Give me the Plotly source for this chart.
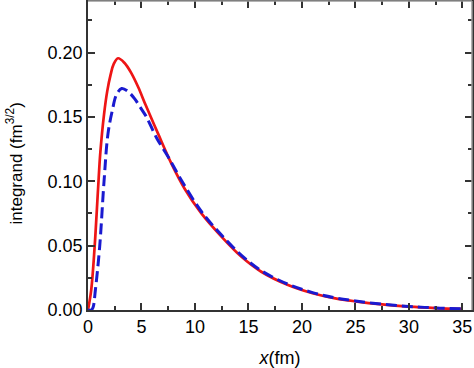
import plotly.graph_objects as go

# Red solid curve
red_x = [0, 0.3, 0.62, 0.94, 1.15, 1.5, 1.8, 2.12, 2.4, 2.81, 3.4, 4.05, 4.7, 5.4, 6.55,
         7.8, 9.05, 10.6, 12.5, 14.35, 16.2, 18.7, 21, 23, 25, 27.5, 30, 32.5, 35]
red_y = [0, 0.0155, 0.049, 0.094, 0.122, 0.152, 0.170, 0.183, 0.191, 0.1955, 0.192, 0.184,
         0.173, 0.159, 0.137, 0.1137, 0.094, 0.075, 0.0568, 0.0413, 0.0297, 0.0194, 0.013,
         0.0092, 0.0067, 0.0043, 0.0026, 0.0015, 0.0008]

# Blue dashed curve
blue_x = [0, 0.3, 0.47, 0.69, 1.09, 1.5, 1.87, 2.3, 2.65, 3.15, 3.7, 4.37, 4.84, 5.46, 6.39,
          7.49, 8.73, 10.6, 12.5, 14.35, 16.2, 18.7, 21, 23, 25, 27.5, 30, 32.5, 35]
blue_y = [0, 0, 0.002, 0.0155, 0.049, 0.100, 0.137, 0.156, 0.167, 0.172, 0.170, 0.164,
          0.158, 0.150, 0.134, 0.119, 0.1008, 0.0765, 0.058, 0.0425, 0.0305, 0.0200, 0.0135,
          0.0096, 0.007, 0.0045, 0.0028, 0.0016, 0.0009]

x_ticks = [0, 5, 10, 15, 20, 25, 30, 35]
y_ticks = [0.00, 0.05, 0.10, 0.15, 0.20]

fig = go.Figure()
fig.add_trace(go.Scatter(x=red_x, y=red_y, mode="lines",
                         line=dict(color="#ee1515", width=2.7, shape="spline", smoothing=1.0)))
fig.add_trace(go.Scatter(x=blue_x, y=blue_y, mode="lines",
                         line=dict(color="#1a1ad0", width=3, dash="11px,5px",
                                   shape="spline", smoothing=1.0)))

font = dict(family="Liberation Sans, Arial, sans-serif", size=18, color="black")
title_font = dict(family="Liberation Sans, Arial, sans-serif", size=17, color="black")
axis_common = dict(showline=True, linecolor="#333", linewidth=1.5, mirror="ticks",
                   ticks="inside", ticklen=7, tickwidth=1.5, tickcolor="#333",
                   showgrid=False, zeroline=False, tickfont=font, automargin=False)

fig.update_xaxes(range=[0, 35.9], tickvals=x_ticks, ticktext=[str(v) for v in x_ticks],
                 minor=dict(dtick=2.5, tick0=0, ticks="inside", ticklen=4, tickwidth=1.5,
                            tickcolor="#333"),
                 title=dict(text="<i>x</i>(fm)", font=font, standoff=15), **axis_common)
fig.update_yaxes(range=[0, 0.24], tickvals=y_ticks, tickformat=".2f",
                 minor=dict(dtick=0.025, tick0=0, ticks="inside", ticklen=4, tickwidth=1.5,
                            tickcolor="#333"),
                 **axis_common)

# y-axis title placed slightly below centre, as in the reference
fig.add_annotation(text="integrand (fm<sup>3/2</sup>)", textangle=-90, font=title_font,
                   xref="paper", yref="paper", x=0, y=0.5, xanchor="center", yanchor="middle",
                   xshift=-74, yshift=-8, showarrow=False)

# lighter top and right frame lines
fig.add_shape(type="line", xref="paper", yref="paper", x0=0, x1=1, y0=1, y1=1,
              line=dict(color="#9a9a9a", width=1.5), layer="above")
fig.add_shape(type="line", xref="paper", yref="paper", x0=1, x1=1, y0=0, y1=1,
              line=dict(color="#9a9a9a", width=1.5), layer="above")

fig.update_layout(width=474, height=368, margin=dict(l=88, r=2, t=1, b=58),
                  paper_bgcolor="white", plot_bgcolor="white", showlegend=False)

fig.write_html("out.html", config={"displayModeBar": False},
               post_script="document.body.style.margin='0';")
